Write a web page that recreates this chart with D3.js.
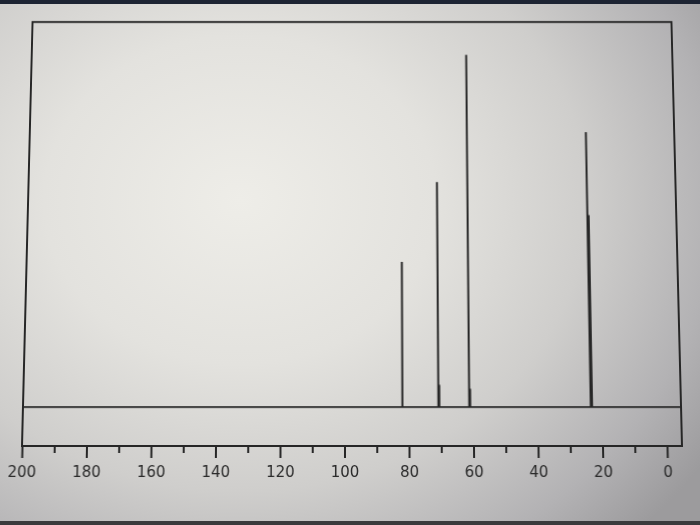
<!DOCTYPE html>
<html>
<head>
<meta charset="utf-8">
<script src="https://cdn.jsdelivr.net/npm/d3@7"></script>
<style>
  html, body { margin: 0; padding: 0; }
  #bg {
    position: absolute; left: 0; top: 0; width: 700px; height: 525px; overflow: hidden;
    background: radial-gradient(ellipse 560px 470px at 240px 200px, #eeede8 0%, #e3e2de 35%, #cfcecc 62%, #b3b2b4 85%, #9c9b9d 100%);
  }
  #topband { position: absolute; left: 0; top: 0; width: 700px; height: 4px; background: #1d2433; }
  #botband { position: absolute; left: 0; top: 521px; width: 700px; height: 4px; background: #3a3a3c; }
  svg#chart {
    position: absolute; left: 0; top: 0;
    transform-origin: 352px 446px;
    transform: perspective(800px) rotateX(3.45deg);
  }
</style>
</head>
<body>
<div id="bg"><div id="topband"></div><div id="botband"></div></div>
<svg id="chart" width="700" height="525"></svg>
<script>
// 13C NMR spectrum, chemical shift (ppm) and relative intensity (% of frame height)
const peakShift     = [82.0, 70.8, 70.5, 61.2, 60.9, 23.4, 23.0];
const peakIntensity = [37.0, 57.7,  5.6, 91.2,  4.6, 70.8, 49.1];
const majorTicks = [200, 180, 160, 140, 120, 100, 80, 60, 40, 20, 0];
const minorTicks = [190, 170, 150, 130, 110, 90, 70, 50, 30, 10];

const svg = d3.select("#chart");
const x = d3.scaleLinear().domain([200, 0]).range([22, 667]);
const y = d3.scaleLinear().domain([0, 100]).range([406.8, 7.2]);
const xLeft = x(200), xRight = x(-4.65);
const axisY = 446;
const ink = "#262626";

// frame
svg.append("rect")
  .attr("x", xLeft).attr("y", y(100))
  .attr("width", xRight - xLeft).attr("height", axisY - y(100))
  .attr("fill", "none").attr("stroke", ink).attr("stroke-width", 2);

// baseline
svg.append("line")
  .attr("x1", xLeft).attr("x2", xRight)
  .attr("y1", y(0)).attr("y2", y(0))
  .attr("stroke", ink).attr("stroke-width", 1.8);

// peaks
svg.append("g").selectAll("line")
  .data(peakShift.map((s, i) => ({ s, v: peakIntensity[i] })))
  .join("line")
  .attr("x1", d => x(d.s)).attr("x2", d => x(d.s))
  .attr("y1", y(0)).attr("y2", d => y(d.v))
  .attr("stroke", ink).attr("stroke-width", 2);

// axis
const allTicks = majorTicks.concat(minorTicks).sort((a, b) => b - a);
const axis = d3.axisBottom(x)
  .tickValues(allTicks)
  .tickSizeOuter(0)
  .tickSize(12)
  .tickPadding(8)
  .tickFormat(d => majorTicks.includes(d) ? d : "");
const gAxis = svg.append("g").attr("transform", `translate(0,${axisY})`).call(axis);
gAxis.select(".domain").remove();
gAxis.selectAll(".tick line")
  .attr("stroke", ink).attr("stroke-width", 2)
  .attr("y2", d => majorTicks.includes(d) ? 12 : 7);
gAxis.selectAll(".tick text")
  .attr("fill", "#2a2a2a")
  .style("font-family", "'DejaVu Sans', sans-serif")
  .style("font-size", "15px");
</script>
</body>
</html>
